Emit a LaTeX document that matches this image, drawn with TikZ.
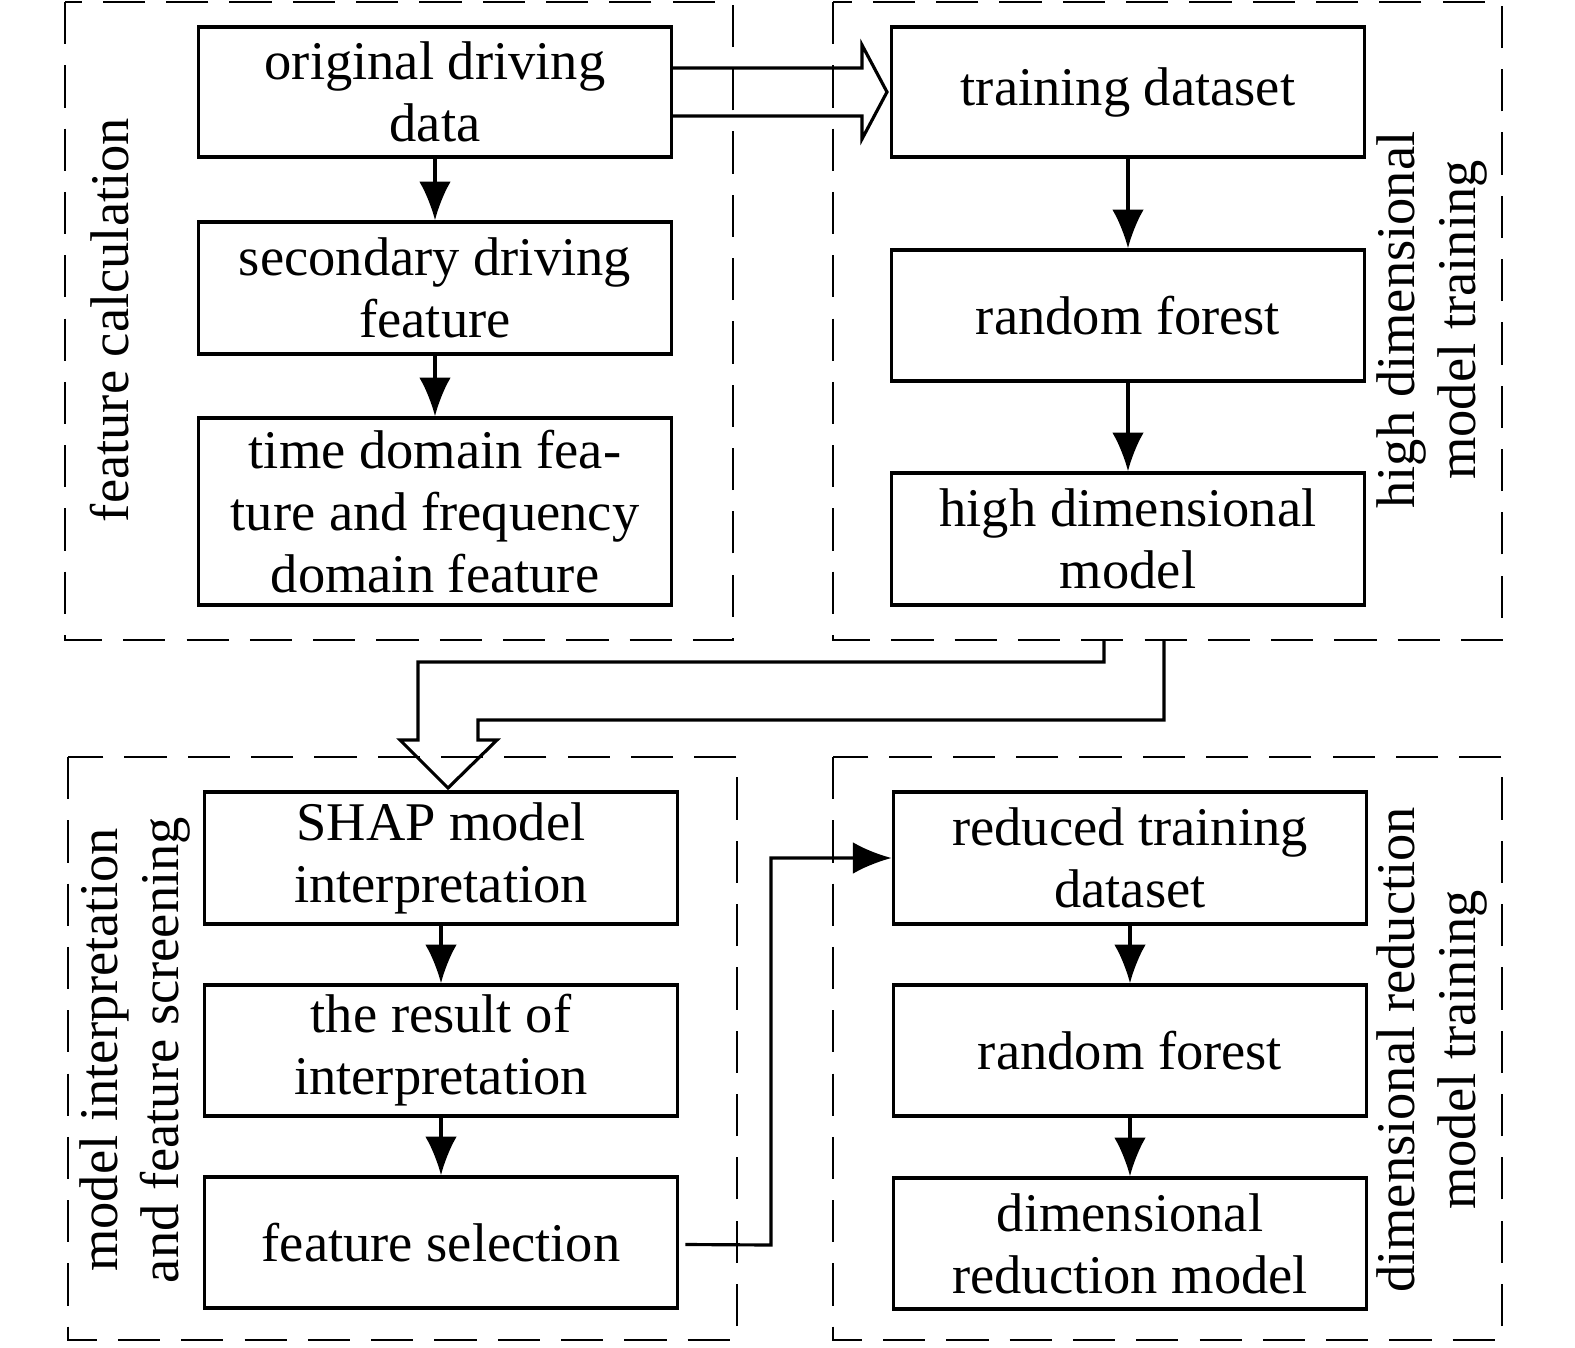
\documentclass[tikz,border=0pt]{standalone}
\usepackage{fontspec}
\setmainfont{Liberation Serif}
\usetikzlibrary{arrows.meta}
\begin{document}
\begin{tikzpicture}[x=0.01cm,y=-0.01cm,
 box/.style={draw,line width=1pt,minimum width=4.73cm,align=center,font=\fontsize{15.5}{17.6}\selectfont,inner sep=0pt},
 panel/.style={draw,line width=0.8pt,dash pattern=on 12pt off 6pt},
 lab/.style={rotate=90,align=center,font=\fontsize{15.5}{17.6}\selectfont},
 arr/.style={-{Latex[length=11pt,width=9pt]},line width=0.9pt}]
\useasboundingbox (0,0) rectangle (1575,1348);
\draw[panel] (65,2) rectangle (733,640);
\draw[panel] (833,2) rectangle (1502,640);
\draw[panel] (68,757) rectangle (737,1340);
\draw[panel] (833,757) rectangle (1502,1340);
\node[box,minimum height=1.30cm] (b1) at (435,92) {original driving\\data};
\node[box,minimum height=1.32cm] (b2) at (435,288) {secondary driving\\feature};
\node[box,minimum height=1.87cm] (b3) at (435,511.5) {time domain fea-\\ture and frequency\\domain feature};
\node[box,minimum height=1.30cm] (b4) at (1128,92) {training dataset};
\node[box,minimum height=1.31cm] (b5) at (1128,315.5) {random forest};
\node[box,minimum height=1.32cm] (b6) at (1128,539) {high dimensional\\model};
\node[box,minimum height=1.32cm] (c1) at (441,858) {SHAP model\\interpretation};
\node[box,minimum height=1.31cm] (c2) at (441,1050.5) {the result of\\interpretation};
\node[box,minimum height=1.31cm] (c3) at (441,1242.5) {feature selection};
\node[box,minimum height=1.32cm] (d1) at (1130,858) {reduced training\\dataset};
\node[box,minimum height=1.31cm] (d2) at (1130,1050.5) {random forest};
\node[box,minimum height=1.31cm] (d3) at (1130,1243.5) {dimensional\\reduction model};
\draw[arr] (b1) -- (b2); \draw[arr] (b2) -- (b3);
\draw[arr] (b4) -- (b5); \draw[arr] (b5) -- (b6);
\draw[arr] (c1) -- (c2); \draw[arr] (c2) -- (c3);
\draw[arr] (d1) -- (d2); \draw[arr] (d2) -- (d3);
\draw[arr] (c3.east) ++(6,2) -- (771,1245) -- (771,858) -- (d1.west);
\node[lab] (l1) at (110,320) {feature calculation};
\node[lab] (l2) at (1432,320) {high dimensional\\model training};
\node[lab] (l3) at (135,1050) {model interpretation\\and feature screening};
\node[lab] (l4) at (1432,1050) {dimensional reduction\\model training};
\draw[line width=0.9pt] (671,68) -- (862,68) -- (862,45) -- (887,92) -- (862,139) -- (862,116) -- (671,116);
\draw[line width=0.9pt] (1104,640) -- (1104,662) -- (418,662) -- (418,740) -- (400,740) -- (448,788) -- (497,740) -- (478,740) -- (478,720) -- (1164,720) -- (1164,640);
\end{tikzpicture}
\end{document}
